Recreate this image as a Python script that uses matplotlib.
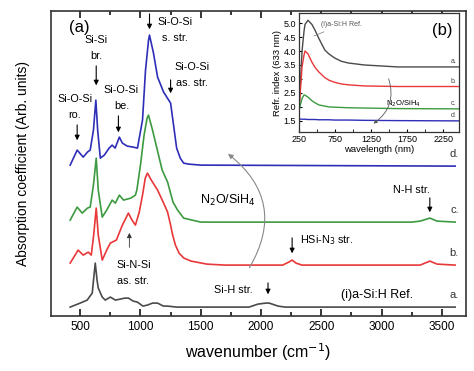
import matplotlib.pyplot as plt
import numpy as np

plt.rcParams['font.family'] = ['Liberation Sans', 'DejaVu Sans']

# FTIR spectra (wavenumber in cm-1, absorption in arb. units above own baseline)
wn_a = [417, 500, 558, 600, 615, 625, 640, 650, 683, 708, 750, 792, 833, 870, 900, 940,
        975, 1020, 1058, 1100, 1142, 1190, 1225, 1300, 1900, 1975, 2040, 2067, 2142, 2200, 3610]
abs_a = [0, 4, 7, 14, 32, 44, 27, 19, 10, 7, 10, 7, 8, 9, 9, 6,
         5, 1, 2, 4, 4, 1, 1, 0, 0, 3, 4, 4, 1, 0, 0]

wn_b = [417, 483, 525, 567, 592, 612, 633, 650, 683, 720, 750, 800, 850, 900, 930, 958,
        990, 1017, 1040, 1058, 1090, 1142, 1192, 1225, 1250, 1267, 1290, 1320, 1360, 1420,
        1550, 1700, 2180, 2230, 2258, 2290, 2340, 3320, 3400, 3460, 3610]
abs_b = [2, 15, 10, 13, 10, 30, 57, 30, 5, 15, 22, 25, 40, 52, 45, 40,
         53, 70, 87, 92, 85, 75, 62, 53, 40, 30, 20, 12, 7, 4,
         1, 0, 0, 3, 5, 2, 0, 0, 4, 1, 0]

wn_c = [417, 475, 517, 560, 583, 610, 633, 650, 683, 720, 765, 792, 825, 860, 920, 958,
        970, 1000, 1030, 1055, 1067, 1100, 1142, 1180, 1225, 1270, 1308, 1358, 1500,
        3250, 3320, 3400, 3460, 3610]
abs_c = [2, 15, 9, 14, 15, 37, 64, 32, 5, 12, 22, 19, 27, 22, 24, 27,
         32, 57, 87, 104, 107, 92, 71, 52, 40, 20, 12, 4, 0,
         0, 1, 4, 1, 0]

wn_d = [417, 475, 525, 560, 583, 610, 630, 645, 667, 700, 740, 765, 790, 825, 850, 890,
        940, 975, 1017, 1042, 1067, 1075, 1108, 1142, 1192, 1250, 1280, 1300, 1330, 1358,
        1400, 1500, 3610]
abs_d = [1, 16, 9, 14, 16, 36, 66, 36, 8, 11, 18, 21, 18, 29, 23, 20,
         19, 18, 46, 96, 126, 131, 113, 89, 74, 63, 36, 18, 8, 3,
         2, 1, 0]

offsets = [9, 51, 94, 150]
labels = ['a.', 'b.', 'c.', 'd.']
colors = ['#4a4a4a', '#e8383a', '#3c9a40', '#2e2eb8']

# inset: refractive index (633 nm) vs wavelength
wl = [250, 291, 318, 332, 373, 428, 470, 524, 606, 661, 743, 839, 935, 1155, 1620, 2470]
n_a = [1.9, 4.0, 4.7, 4.95, 5.1, 4.95, 4.75, 4.45, 4.04, 3.9, 3.75, 3.63, 3.57, 3.5, 3.43, 3.43]
n_b = [1.9, 3.43, 3.85, 4.0, 3.9, 3.6, 3.42, 3.25, 3.05, 2.96, 2.88, 2.82, 2.79, 2.75, 2.73, 2.73]
n_c = [1.9, 2.3, 2.43, 2.42, 2.35, 2.22, 2.15, 2.07, 2.03, 2.0, 1.99, 1.98, 1.97, 1.96, 1.94, 1.93]
n_d = [1.57, 1.56, 1.56, 1.56, 1.55, 1.55, 1.55, 1.54, 1.54, 1.54, 1.53, 1.53, 1.53, 1.52, 1.51, 1.5]

fig = plt.figure(figsize=(4.74, 3.71), dpi=100)
ax = fig.add_axes([0.1076, 0.148, 0.8755, 0.822])

for wn, ab, off, c, lab in zip([wn_a, wn_b, wn_c, wn_d], [abs_a, abs_b, abs_c, abs_d],
                               offsets, colors, labels):
    ax.plot(wn, np.array(ab) + off, color=c, lw=1.2)
    ax.text(3640, off + 12, lab, ha='right', va='center', fontsize=8, color='#333333')

ax.set_xlim(258, 3700)
ax.set_ylim(0, 305)
ax.set_xticks([500, 1000, 1500, 2000, 2500, 3000, 3500])
ax.set_xticks(np.arange(750, 3700, 500), minor=True)
ax.set_yticks([])
ax.tick_params(axis='x', which='both', direction='in', top=True, labelsize=8.5, width=1.1)
ax.tick_params(axis='x', which='major', length=5)
ax.tick_params(axis='x', which='minor', length=3)
for s in ax.spines.values():
    s.set_linewidth(1.2)
    s.set_color('#333333')
ax.set_xlabel('wavenumber (cm$^{-1}$)', fontsize=11.5, labelpad=6)
ax.set_ylabel('Absorption coefficient (Arb. units)', fontsize=10, labelpad=15)

fs = 7.8
arr = dict(arrowstyle='-|>', color='black', lw=0.8, mutation_scale=7)
ax.text(408, 289, '(a)', fontsize=12, va='center')
ax.text(458, 209, 'Si-O-Si\nro.', fontsize=fs, ha='center', va='center', linespacing=1.7)
ax.annotate('', xy=(475, 173), xytext=(475, 194), arrowprops=arr)
ax.text(633, 268, 'Si-Si\nbr.', fontsize=fs, ha='center', va='center', linespacing=1.7)
ax.annotate('', xy=(633, 228), xytext=(633, 253), arrowprops=arr)
ax.text(842, 218, 'Si-O-Si\nbe.', fontsize=fs, ha='center', va='center', linespacing=1.7)
ax.annotate('', xy=(817, 181), xytext=(817, 203), arrowprops=arr)
ax.text(1288, 286, 'Si-O-Si\ns. str.', fontsize=fs, ha='center', va='center', linespacing=1.7)
ax.annotate('', xy=(1075, 284), xytext=(1075, 305), arrowprops=arr)
ax.text(1425, 241, 'Si-O-Si\nas. str.', fontsize=fs, ha='center', va='center', linespacing=1.7)
ax.annotate('', xy=(1250, 220), xytext=(1250, 239), arrowprops=arr)
ax.text(942, 43, 'Si-N-Si\nas. str.', fontsize=fs, ha='center', va='center', linespacing=1.7)
ax.annotate('', xy=(908, 86), xytext=(908, 66),
            arrowprops=dict(arrowstyle='-|>', color='#333333', lw=0.6, mutation_scale=7))
ax.text(1725, 116, 'N$_2$O/SiH$_4$', fontsize=9, ha='center', va='center')
ax.annotate('', xy=(1708, 164), xytext=(1892, 46),
            arrowprops=dict(arrowstyle='-|>', color='#888888', lw=0.8, mutation_scale=7,
                            connectionstyle='arc3,rad=0.45'))
ax.text(3250, 126, 'N-H str.', fontsize=fs, ha='center', va='center')
ax.annotate('', xy=(3400, 101), xytext=(3400, 121), arrowprops=arr)
ax.text(2325, 76, 'HSi-N$_3$ str.', fontsize=fs, ha='left', va='center')
ax.annotate('', xy=(2258, 60), xytext=(2258, 81), arrowprops=arr)
ax.text(1608, 26, 'Si-H str.', fontsize=fs, ha='left', va='center')
ax.annotate('', xy=(2058, 19), xytext=(2058, 36), arrowprops=arr)
ax.text(2958, 21, '(i)a-Si:H Ref.', fontsize=9, ha='center', va='center')

# inset (b)
ins = fig.add_axes([0.631, 0.644, 0.3376, 0.321])
for n, c in zip([n_a, n_b, n_c, n_d], colors):
    ins.plot(wl, n, color=c, lw=1.0)
for n, lab in zip([n_a, n_b, n_c, n_d], labels):
    ins.text(2430, n[-1] + 0.18, lab, fontsize=5, ha='right', va='center', color='#444444')
ins.set_xlim(250, 2470)
ins.set_ylim(1.1, 5.36)
ins.set_xticks([250, 750, 1250, 1750, 2250])
ins.set_xticks([500, 1000, 1500, 2000], minor=True)
ins.set_yticks([1.5, 2.0, 2.5, 3.0, 3.5, 4.0, 4.5, 5.0])
ins.tick_params(which='both', direction='in', labelsize=6.5, length=2.5, pad=2)
ins.set_xlabel('wavelength (nm)', fontsize=6.8, labelpad=1)
ins.set_ylabel('Refr. index (633 nm)', fontsize=6.8, labelpad=1)
for s in ins.spines.values():
    s.set_linewidth(0.9)
    s.set_color('#333333')
ins.text(2380, 4.75, '(b)', fontsize=12, ha='right', va='center')
ins.annotate('(i)a-Si:H Ref.', xy=(420, 4.5), xytext=(560, 4.95), fontsize=5,
             color='#555555', va='center',
             arrowprops=dict(arrowstyle='-', color='#777777', lw=0.5))
ins.text(1700, 2.1, 'N$_2$O/SiH$_4$', fontsize=5.5, ha='center', va='center')
ins.annotate('', xy=(1250, 1.35), xytext=(1480, 3.1),
             arrowprops=dict(arrowstyle='-|>', color='#555555', lw=0.6, mutation_scale=5,
                             connectionstyle='arc3,rad=-0.4'))

fig.savefig('out.png', dpi=100)
